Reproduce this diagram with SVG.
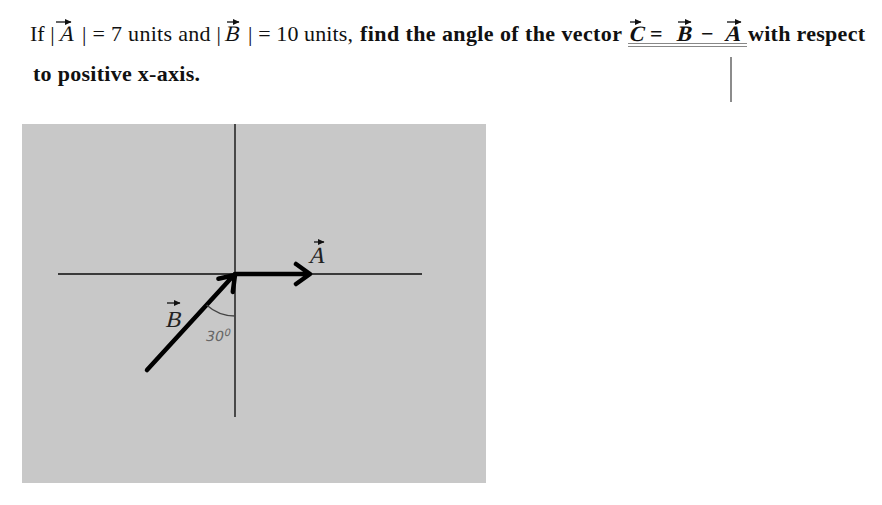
<svg xmlns="http://www.w3.org/2000/svg" width="882" height="505" viewBox="0 0 882 505">
<style>
.t{font-family:"Liberation Serif","Times New Roman",serif;font-size:22px;fill:#111}
.b{font-weight:bold}
.acc{stroke:#111;stroke-width:1.3;fill:none}
.ax{stroke:#3a3a3a;stroke-width:1.8;fill:none}
.vec{stroke:#000;stroke-width:4.5;fill:none;stroke-linecap:round;stroke-linejoin:round}
.lbl{font-family:"Liberation Serif","Times New Roman",serif;font-size:23px;fill:#222}
</style>
<defs>
<marker id="ah" viewBox="0 0 6 6" refX="5.5" refY="3" markerWidth="7" markerHeight="7" markerUnits="userSpaceOnUse" orient="auto">
<path d="M0,0.3 L6,3 L0,5.7 z" fill="#111"/>
</marker>
</defs>
<rect width="882" height="505" fill="#fff"/>
<g id="question">
<text class="t" x="30" y="41">If |</text>
<text class="t" transform="translate(58,41) skewX(-14)">A</text>
<text class="t" x="82" y="41" textLength="139" lengthAdjust="spacing">| = 7 units and |</text>
<text class="t" transform="translate(224,41) skewX(-14)">B</text>
<text class="t" x="248" y="41" textLength="105" lengthAdjust="spacing">| = 10 units,</text>
<text class="t b" x="360" y="41" textLength="262" lengthAdjust="spacing">find the angle of the vector</text>
<text class="t b" transform="translate(628,41) skewX(-14)">C</text>
<text class="t b" x="650" y="41">=</text>
<text class="t b" transform="translate(676,41) skewX(-14)">B</text>
<text class="t b" x="701" y="41" font-size="24">−</text>
<text class="t b" transform="translate(724,41) skewX(-14)">A</text>
<text class="t b" x="748" y="41" textLength="117" lengthAdjust="spacing">with respect</text>
<text class="t b" x="33" y="81" textLength="167" lengthAdjust="spacing">to positive x-axis.</text>
<g class="acc">
<line x1="56" y1="22" x2="71" y2="22" marker-end="url(#ah)"/>
<line x1="227" y1="22" x2="239" y2="22" marker-end="url(#ah)"/>
<line x1="630" y1="22" x2="641" y2="22" marker-end="url(#ah)"/>
<line x1="678" y1="22" x2="691" y2="22" marker-end="url(#ah)"/>
<line x1="727" y1="22" x2="741" y2="22" marker-end="url(#ah)"/>
</g>
<line x1="628" y1="43.5" x2="747" y2="43.5" stroke="#888" stroke-width="1"/>
<line x1="628" y1="46.5" x2="747" y2="46.5" stroke="#888" stroke-width="1"/>
<line x1="731" y1="57" x2="731" y2="102" stroke="#666" stroke-width="1.5"/>
</g>
<g id="figure">
<rect x="22" y="124" width="464" height="359" fill="#c8c8c8"/>
<g id="axes">
<line class="ax" x1="235" y1="124" x2="235" y2="417"/>
<line class="ax" x1="58" y1="274" x2="422" y2="274"/>
</g>
<g id="connectors">
<path class="vec" d="M235,274 L309,274 M296,264 L310,274 L296,284"/>
<path class="vec" d="M147,370 L234,275 M218.4,278.7 L235,275 L232.8,291.9"/>
<path d="M206.6,305 A42,42 0 0 0 235,316" fill="none" stroke="#444" stroke-width="1.3"/>
</g>
<g id="label-A">
<text class="lbl" transform="translate(308,263) skewX(-14)">A</text>
<line class="acc" x1="314" y1="242" x2="324" y2="242" marker-end="url(#ah)"/>
</g>
<g id="label-B">
<text class="lbl" transform="translate(165,327) skewX(-14)">B</text>
<line class="acc" x1="167" y1="303" x2="180" y2="303" marker-end="url(#ah)"/>
</g>
<g id="label-angle">
<text transform="translate(205,341) skewX(-12)" font-family="'DejaVu Sans','Liberation Sans',sans-serif" font-size="14" fill="#666">30<tspan font-size="10" dy="-5">0</tspan></text>
</g>
</g>
</svg>
